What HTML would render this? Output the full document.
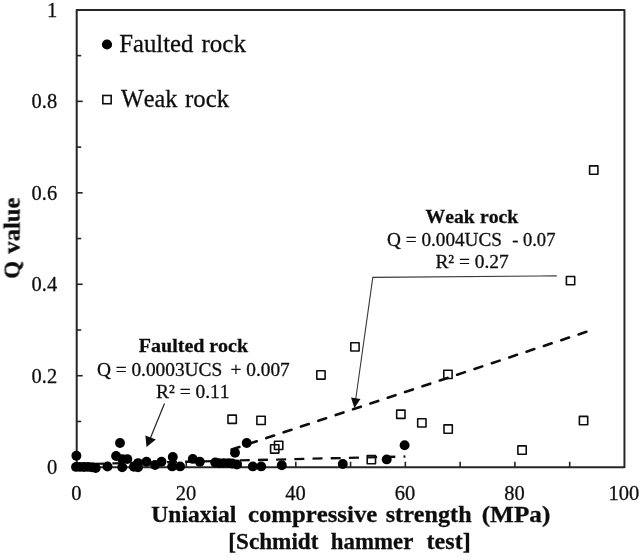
<!DOCTYPE html>
<html><head><meta charset="utf-8"><title>Q value vs UCS</title>
<style>
html,body{margin:0;padding:0;background:#fff;}
body{width:641px;height:560px;overflow:hidden;}
svg{display:block;}
text{font-family:"Liberation Serif",serif;fill:#111;font-kerning:none;white-space:pre;stroke:#111;stroke-width:0.3px;}
.b{font-weight:bold;}
</style></head><body>
<svg width="641" height="560" viewBox="0 0 641 560">
<defs><filter id="soft" x="0" y="0" width="641" height="560" filterUnits="userSpaceOnUse"><feGaussianBlur stdDeviation="0.55"/></filter></defs>
<rect x="0" y="0" width="641" height="560" fill="#fff"/>
<g filter="url(#soft)">

<rect x="76.70" y="9.90" width="547.75" height="457.30" fill="none" stroke="#262626" stroke-width="2" stroke-linejoin="round"/>
<line x1="76.70" y1="421.47" x2="81.20" y2="421.47" stroke="#262626" stroke-width="1.6"/>
<line x1="76.70" y1="375.74" x2="82.70" y2="375.74" stroke="#262626" stroke-width="1.6"/>
<line x1="76.70" y1="330.01" x2="81.20" y2="330.01" stroke="#262626" stroke-width="1.6"/>
<line x1="76.70" y1="284.28" x2="82.70" y2="284.28" stroke="#262626" stroke-width="1.6"/>
<line x1="76.70" y1="238.55" x2="81.20" y2="238.55" stroke="#262626" stroke-width="1.6"/>
<line x1="76.70" y1="192.82" x2="82.70" y2="192.82" stroke="#262626" stroke-width="1.6"/>
<line x1="76.70" y1="147.09" x2="81.20" y2="147.09" stroke="#262626" stroke-width="1.6"/>
<line x1="76.70" y1="101.36" x2="82.70" y2="101.36" stroke="#262626" stroke-width="1.6"/>
<line x1="76.70" y1="55.63" x2="81.20" y2="55.63" stroke="#262626" stroke-width="1.6"/>
<line x1="131.47" y1="467.20" x2="131.47" y2="461.70" stroke="#262626" stroke-width="1.6"/>
<line x1="186.25" y1="467.20" x2="186.25" y2="461.70" stroke="#262626" stroke-width="1.6"/>
<line x1="241.02" y1="467.20" x2="241.02" y2="461.70" stroke="#262626" stroke-width="1.6"/>
<line x1="295.80" y1="467.20" x2="295.80" y2="461.70" stroke="#262626" stroke-width="1.6"/>
<line x1="350.57" y1="467.20" x2="350.57" y2="461.70" stroke="#262626" stroke-width="1.6"/>
<line x1="405.35" y1="467.20" x2="405.35" y2="461.70" stroke="#262626" stroke-width="1.6"/>
<line x1="460.12" y1="467.20" x2="460.12" y2="461.70" stroke="#262626" stroke-width="1.6"/>
<line x1="514.90" y1="467.20" x2="514.90" y2="461.70" stroke="#262626" stroke-width="1.6"/>
<line x1="569.68" y1="467.20" x2="569.68" y2="461.70" stroke="#262626" stroke-width="1.6"/>
<text x="47.0" y="16.7" font-size="21.6" textLength="10.3" lengthAdjust="spacingAndGlyphs">1</text>
<text x="31.6" y="108.2" font-size="21.6" textLength="25.6" lengthAdjust="spacingAndGlyphs">0.8</text>
<text x="31.6" y="199.6" font-size="21.6" textLength="25.6" lengthAdjust="spacingAndGlyphs">0.6</text>
<text x="31.6" y="291.1" font-size="21.6" textLength="25.6" lengthAdjust="spacingAndGlyphs">0.4</text>
<text x="31.6" y="382.5" font-size="21.6" textLength="25.6" lengthAdjust="spacingAndGlyphs">0.2</text>
<text x="47.0" y="474.0" font-size="21.6" textLength="10.3" lengthAdjust="spacingAndGlyphs">0</text>
<text x="71.3" y="499.6" font-size="21.6" textLength="10.3" lengthAdjust="spacingAndGlyphs">0</text>
<text x="175.7" y="499.6" font-size="21.6" textLength="20.5" lengthAdjust="spacingAndGlyphs">20</text>
<text x="285.2" y="499.6" font-size="21.6" textLength="20.5" lengthAdjust="spacingAndGlyphs">40</text>
<text x="394.8" y="499.6" font-size="21.6" textLength="20.5" lengthAdjust="spacingAndGlyphs">60</text>
<text x="504.3" y="499.6" font-size="21.6" textLength="20.5" lengthAdjust="spacingAndGlyphs">80</text>
<text x="608.5" y="499.6" font-size="21.6" textLength="30.8" lengthAdjust="spacingAndGlyphs">100</text>
<line x1="231.6" y1="449.6" x2="586.4" y2="331.8" stroke="#111" stroke-width="2.6" stroke-linecap="round" stroke-dasharray="8.2 10.08"/>
<line x1="76.7" y1="464.3" x2="405.4" y2="456.5" stroke="#111" stroke-width="2.3" stroke-dasharray="10 8.2" stroke-dashoffset="0.7"/>
<rect x="228.0" y="415.1" width="8.3" height="8.3" fill="none" stroke="#111" stroke-width="1.6" stroke-linejoin="round"/>
<rect x="256.9" y="416.2" width="8.3" height="8.3" fill="none" stroke="#111" stroke-width="1.6" stroke-linejoin="round"/>
<rect x="270.6" y="444.8" width="8.3" height="8.3" fill="none" stroke="#111" stroke-width="1.6" stroke-linejoin="round"/>
<rect x="274.5" y="441.2" width="8.3" height="8.3" fill="none" stroke="#111" stroke-width="1.6" stroke-linejoin="round"/>
<rect x="316.8" y="370.8" width="8.3" height="8.3" fill="none" stroke="#111" stroke-width="1.6" stroke-linejoin="round"/>
<rect x="350.8" y="342.7" width="8.3" height="8.3" fill="none" stroke="#111" stroke-width="1.6" stroke-linejoin="round"/>
<rect x="367.2" y="455.5" width="8.3" height="8.3" fill="none" stroke="#111" stroke-width="1.6" stroke-linejoin="round"/>
<rect x="396.7" y="410.1" width="8.3" height="8.3" fill="none" stroke="#111" stroke-width="1.6" stroke-linejoin="round"/>
<rect x="417.7" y="418.7" width="8.3" height="8.3" fill="none" stroke="#111" stroke-width="1.6" stroke-linejoin="round"/>
<rect x="443.8" y="370.2" width="8.3" height="8.3" fill="none" stroke="#111" stroke-width="1.6" stroke-linejoin="round"/>
<rect x="444.0" y="424.9" width="8.3" height="8.3" fill="none" stroke="#111" stroke-width="1.6" stroke-linejoin="round"/>
<rect x="517.9" y="445.9" width="8.3" height="8.3" fill="none" stroke="#111" stroke-width="1.6" stroke-linejoin="round"/>
<rect x="566.4" y="276.5" width="8.3" height="8.3" fill="none" stroke="#111" stroke-width="1.6" stroke-linejoin="round"/>
<rect x="579.4" y="416.4" width="8.3" height="8.3" fill="none" stroke="#111" stroke-width="1.6" stroke-linejoin="round"/>
<rect x="589.6" y="165.9" width="8.3" height="8.3" fill="none" stroke="#111" stroke-width="1.6" stroke-linejoin="round"/>
<circle cx="76.4" cy="455.8" r="4.95" fill="#000"/>
<circle cx="76.0" cy="466.9" r="4.95" fill="#000"/>
<circle cx="80.0" cy="466.9" r="4.95" fill="#000"/>
<circle cx="84.0" cy="467.0" r="4.95" fill="#000"/>
<circle cx="88.0" cy="466.9" r="4.95" fill="#000"/>
<circle cx="92.0" cy="467.3" r="4.95" fill="#000"/>
<circle cx="95.7" cy="468.0" r="4.95" fill="#000"/>
<circle cx="107.5" cy="466.5" r="4.95" fill="#000"/>
<circle cx="120.0" cy="443.0" r="4.95" fill="#000"/>
<circle cx="116.1" cy="456.0" r="4.95" fill="#000"/>
<circle cx="122.2" cy="459.1" r="4.95" fill="#000"/>
<circle cx="127.3" cy="459.1" r="4.95" fill="#000"/>
<circle cx="122.2" cy="467.3" r="4.95" fill="#000"/>
<circle cx="133.9" cy="466.8" r="4.95" fill="#000"/>
<circle cx="138.1" cy="463.1" r="4.95" fill="#000"/>
<circle cx="138.0" cy="467.3" r="4.95" fill="#000"/>
<circle cx="146.5" cy="461.7" r="4.95" fill="#000"/>
<circle cx="155.0" cy="465.0" r="4.95" fill="#000"/>
<circle cx="161.5" cy="461.7" r="4.95" fill="#000"/>
<circle cx="172.8" cy="457.0" r="4.95" fill="#000"/>
<circle cx="172.2" cy="466.4" r="4.95" fill="#000"/>
<circle cx="180.1" cy="466.4" r="4.95" fill="#000"/>
<circle cx="192.8" cy="458.9" r="4.95" fill="#000"/>
<circle cx="199.8" cy="461.7" r="4.95" fill="#000"/>
<circle cx="215.2" cy="462.4" r="4.95" fill="#000"/>
<circle cx="219.0" cy="463.1" r="4.95" fill="#000"/>
<circle cx="223.7" cy="463.1" r="4.95" fill="#000"/>
<circle cx="228.4" cy="463.1" r="4.95" fill="#000"/>
<circle cx="232.2" cy="463.5" r="4.95" fill="#000"/>
<circle cx="236.8" cy="464.5" r="4.95" fill="#000"/>
<circle cx="235.0" cy="452.8" r="4.95" fill="#000"/>
<circle cx="246.7" cy="443.0" r="4.95" fill="#000"/>
<circle cx="252.8" cy="466.4" r="4.95" fill="#000"/>
<circle cx="261.2" cy="466.4" r="4.95" fill="#000"/>
<circle cx="281.8" cy="465.2" r="4.95" fill="#000"/>
<circle cx="342.8" cy="464.0" r="4.95" fill="#000"/>
<circle cx="386.7" cy="459.4" r="4.95" fill="#000"/>
<circle cx="404.6" cy="445.3" r="4.95" fill="#000"/>
<circle cx="107" cy="44.5" r="5.1" fill="#000"/>
<rect x="102.85" y="95.45" width="8.3" height="8.3" fill="none" stroke="#111" stroke-width="1.6"/>
<text x="119.2" y="52.0" font-size="24.2" textLength="74.2" lengthAdjust="spacingAndGlyphs">Faulted</text>
<text x="201.5" y="52.0" font-size="24.2" textLength="44.5" lengthAdjust="spacingAndGlyphs">rock</text>
<text x="120.9" y="106.9" font-size="24.2" textLength="56.5" lengthAdjust="spacingAndGlyphs">Weak</text>
<text x="185.1" y="106.9" font-size="24.2" textLength="43.9" lengthAdjust="spacingAndGlyphs">rock</text>
<text class="b" x="138.8" y="351.9" font-size="19.7" textLength="65.7" lengthAdjust="spacingAndGlyphs">Faulted</text>
<text class="b" x="209.2" y="351.9" font-size="19.7" textLength="38.9" lengthAdjust="spacingAndGlyphs">rock</text>
<text x="96.9" y="375.6" font-size="19" textLength="125.3" lengthAdjust="spacingAndGlyphs">Q = 0.0003UCS</text>
<text x="230.6" y="375.6" font-size="19" textLength="59.1" lengthAdjust="spacingAndGlyphs">+ 0.007</text>
<text x="156.1" y="397.9" font-size="19" textLength="73.4" lengthAdjust="spacingAndGlyphs">R² = 0.11</text>
<text class="b" x="425.6" y="222.8" font-size="19.7" textLength="49.2" lengthAdjust="spacingAndGlyphs">Weak</text>
<text class="b" x="479.9" y="222.8" font-size="19.7" textLength="38.4" lengthAdjust="spacingAndGlyphs">rock</text>
<text x="387.1" y="245.9" font-size="19" textLength="114.9" lengthAdjust="spacingAndGlyphs">Q = 0.004UCS</text>
<text x="512.2" y="245.9" font-size="19" textLength="43.2" lengthAdjust="spacingAndGlyphs">- 0.07</text>
<text x="435.4" y="267.8" font-size="19" textLength="73.4" lengthAdjust="spacingAndGlyphs">R² = 0.27</text>
<polyline points="556.8,275.9 372.8,277.4 355.6,400" fill="none" stroke="#383838" stroke-width="1.1"/>
<polygon points="354.4,408 351.0,397.4 360.5,399.0" fill="#111"/>
<line x1="164.5" y1="403.6" x2="150" y2="439" stroke="#222" stroke-width="1.2"/>
<polygon points="146.5,447.0 145.4,435.4 155.9,439.4" fill="#111"/>
<text class="b" x="151.3" y="522.3" font-size="23.8" textLength="85.0" lengthAdjust="spacingAndGlyphs">Uniaxial</text>
<text class="b" x="247.9" y="522.3" font-size="23.8" textLength="129.4" lengthAdjust="spacingAndGlyphs">compressive</text>
<text class="b" x="385.7" y="522.3" font-size="23.8" textLength="85.9" lengthAdjust="spacingAndGlyphs">strength</text>
<text class="b" x="481.7" y="522.3" font-size="23.8" textLength="68.6" lengthAdjust="spacingAndGlyphs">(MPa)</text>
<text class="b" x="228.3" y="549.1" font-size="23.8" textLength="90.2" lengthAdjust="spacingAndGlyphs">[Schmidt</text>
<text class="b" x="330.8" y="549.1" font-size="23.8" textLength="82.5" lengthAdjust="spacingAndGlyphs">hammer</text>
<text class="b" x="426.6" y="549.1" font-size="23.8" textLength="44.1" lengthAdjust="spacingAndGlyphs">test]</text>
<g transform="translate(19.6,0) rotate(-90)">
<text class="b" x="-278.7" y="0.0" font-size="24" textLength="17.8" lengthAdjust="spacingAndGlyphs">Q</text>
<text class="b" x="-253.7" y="0.0" font-size="24" textLength="56.2" lengthAdjust="spacingAndGlyphs">value</text>
</g>
</g></svg></body></html>
